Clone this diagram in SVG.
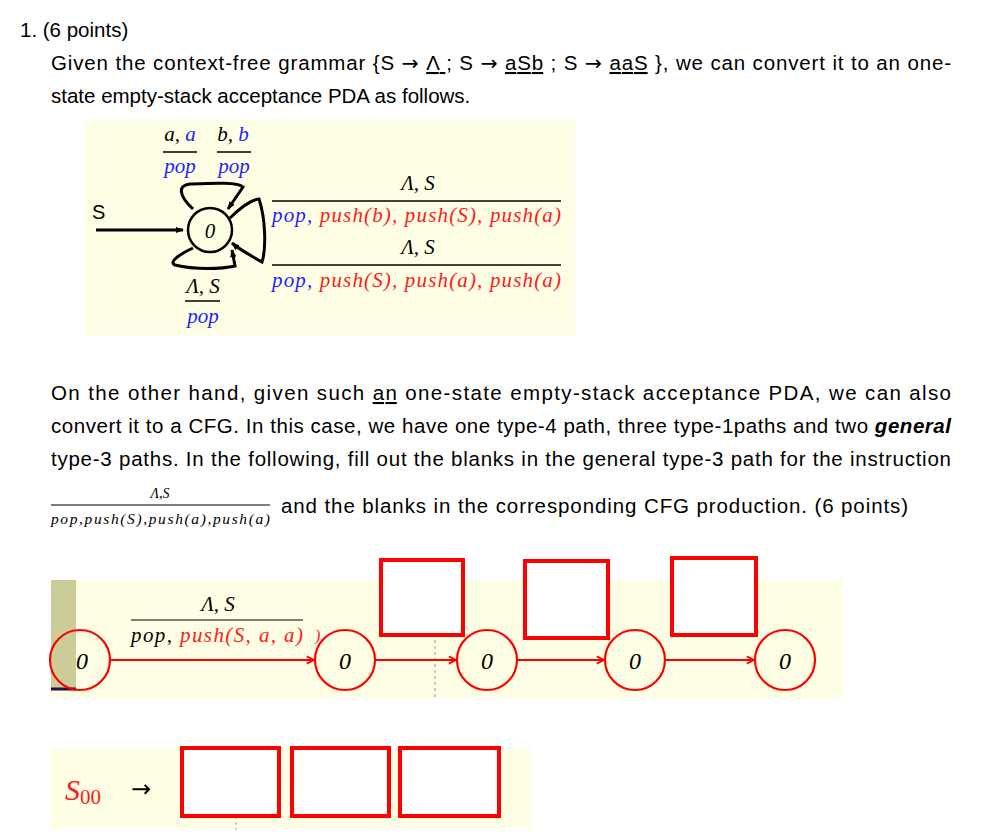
<svg xmlns="http://www.w3.org/2000/svg" width="981" height="835" viewBox="0 0 981 835">
<style>
.t{font-family:"Liberation Sans",Arial,sans-serif;font-size:20.5px;fill:#000}
.ar{font-family:"DejaVu Sans",sans-serif}
.m{font-family:"Liberation Serif","DejaVu Serif",serif;font-style:italic;font-size:21px}
.b{fill:#1f1fff}.r{fill:#ff1a1a}.k{fill:#000}
.yl{fill:#fefee4}
.rb{fill:#fff;stroke:#ff0000;stroke-width:4}
.rc{fill:none;stroke:#ff0000;stroke-width:2.2}
.ra{stroke:#ff0000;stroke-width:2;fill:none;marker-end:url(#ar)}
.bl{stroke:#000;stroke-width:3;fill:none;marker-end:url(#ab)}
</style>
<defs>
<marker id="ar" viewBox="0 0 10 10" refX="9" refY="5" markerWidth="9" markerHeight="9" orient="auto" markerUnits="userSpaceOnUse"><path d="M1,1 L9,5 L1,9" fill="none" stroke="#ff0000" stroke-width="2"/></marker>
<marker id="ab" viewBox="0 0 10 10" refX="9" refY="5" markerWidth="8" markerHeight="8" orient="auto" markerUnits="userSpaceOnUse"><path d="M0,1 L10,5 L0,9 z" fill="#000"/></marker>
</defs>
<rect width="981" height="835" fill="#fff"/>
<text class="t" x="20" y="37">1.  (6 points)</text>
<text class="t" x="51" y="70" textLength="900" lengthAdjust="spacing">Given the context-free grammar {S <tspan class="ar">→</tspan> <tspan text-decoration="underline">Λ </tspan>; S <tspan class="ar">→</tspan> <tspan text-decoration="underline">aSb</tspan> ; S <tspan class="ar">→</tspan> <tspan text-decoration="underline">aaS</tspan> }, we can convert it to an one-</text>
<text class="t" x="51" y="103">state empty-stack acceptance PDA as follows.</text>

<g id="pda">
<rect class="yl" x="84" y="120" width="491" height="215"/>
<g id="loops">
<path class="bl" d="M96,230 L183,230"/>
<path class="bl" d="M193,209 C178,195 178,185 190,184 C215,183 238,182 243,187 L228,209"/>
<path class="bl" d="M230,218 C240,208 250,200 259,199 C266,220 266,250 262,262 C250,255 240,250 232,243"/>
<path class="bl" d="M193,248 C180,254 168,262 175,265 C195,270 222,269 235,266 L232,250"/>
</g>
<g id="q0"><circle cx="210" cy="230" r="22" fill="none" stroke="#000" stroke-width="2.5"/><text class="m k" x="210" y="238" text-anchor="middle">0</text></g>
<text x="92" y="219" class="t" style="font-size:20px">S</text>
<text class="m" x="180" y="141" text-anchor="middle"><tspan class="k">a, </tspan><tspan class="b">a</tspan></text>
<line x1="163" y1="152" x2="197" y2="152" stroke="#000" stroke-width="1.5"/>
<text class="m b" x="180" y="173" text-anchor="middle">pop</text>
<text class="m" x="233" y="141" text-anchor="middle"><tspan class="k">b, </tspan><tspan class="b">b</tspan></text>
<line x1="217" y1="152" x2="251" y2="152" stroke="#000" stroke-width="1.5"/>
<text class="m b" x="234" y="173" text-anchor="middle">pop</text>
<text class="m k" x="418" y="190" text-anchor="middle">Λ, S</text>
<line x1="272" y1="201" x2="561" y2="201" stroke="#000" stroke-width="1.5"/>
<text class="m" x="272" y="222" textLength="289"><tspan class="b">pop, </tspan><tspan class="r">push(b), push(S), push(a)</tspan></text>
<text class="m k" x="418" y="254" text-anchor="middle">Λ, S</text>
<line x1="272" y1="265" x2="561" y2="265" stroke="#000" stroke-width="1.5"/>
<text class="m" x="272" y="287" textLength="289"><tspan class="b">pop, </tspan><tspan class="r">push(S), push(a), push(a)</tspan></text>
<text class="m k" x="203" y="293" text-anchor="middle">Λ, S</text>
<line x1="185" y1="301" x2="220" y2="301" stroke="#000" stroke-width="1.5"/>
<text class="m b" x="203" y="323" text-anchor="middle">pop</text>
</g>

<text class="t" x="51" y="400" textLength="900" lengthAdjust="spacing">On the other hand, given such <tspan text-decoration="underline">an</tspan> one-state empty-stack acceptance PDA, we can also</text>
<text class="t" x="51" y="433" textLength="900" lengthAdjust="spacing">convert it to a CFG. In this case, we have one type-4 path, three type-1paths and two <tspan font-weight="bold" font-style="italic">general</tspan></text>
<text class="t" x="51" y="466" textLength="900" lengthAdjust="spacing">type-3 paths. In the following, fill out the blanks in the general type-3 path for the instruction</text>
<text class="m k" x="160" y="498" style="font-size:14px" text-anchor="middle">Λ,S</text>
<line x1="51" y1="505" x2="270" y2="505" stroke="#000" stroke-width="1"/>
<text class="m k" x="51" y="524" style="font-size:15.5px" textLength="219">pop,push(S),push(a),push(a)</text>
<text class="t" x="281" y="513" textLength="627" lengthAdjust="spacing">and the blanks in the corresponding CFG production.   (6 points)</text>

<g id="path3">
<rect class="yl" x="51" y="580" width="792" height="118"/>
<rect x="51" y="580" width="25" height="108" fill="#cccc99"/>
<line x1="51" y1="689" x2="76" y2="689" stroke="#2a1040" stroke-width="3"/>
<line x1="435" y1="640" x2="435" y2="700" stroke="#999" stroke-dasharray="3,3"/>
<g id="connectors">
<path class="ra" d="M110,660 L314,660"/>
<path class="ra" d="M375,660 L456,660"/>
<path class="ra" d="M517,660 L604,660"/>
<path class="ra" d="M665,660 L754,660"/>
</g>
<g id="n1"><circle class="rc" cx="80" cy="660" r="30"/><text class="m k" x="82" y="669" style="font-size:24px" text-anchor="middle">0</text></g>
<g id="n2"><circle class="rc" cx="345" cy="660" r="30"/><text class="m k" x="345" y="669" style="font-size:24px" text-anchor="middle">0</text></g>
<g id="n3"><circle class="rc" cx="487" cy="660" r="30"/><text class="m k" x="487" y="669" style="font-size:24px" text-anchor="middle">0</text></g>
<g id="n4"><circle class="rc" cx="635" cy="660" r="30"/><text class="m k" x="635" y="669" style="font-size:24px" text-anchor="middle">0</text></g>
<g id="n5"><circle class="rc" cx="785" cy="660" r="30"/><text class="m k" x="785" y="669" style="font-size:24px" text-anchor="middle">0</text></g>
<text class="m k" x="218" y="611" text-anchor="middle">Λ, S</text>
<line x1="131" y1="620" x2="303" y2="620" stroke="#000" stroke-width="1.2"/>
<text class="m" x="131" y="642" textLength="172"><tspan class="k">pop, </tspan><tspan class="r">push(S, a, a)</tspan></text>
<text class="m r" x="315" y="641" style="font-size:16px">)</text>
<rect class="rb" x="381" y="560" width="82" height="75"/>
<rect class="rb" x="525" y="561" width="83" height="77"/>
<rect class="rb" x="672" y="558" width="84" height="77"/>
</g>

<g id="prod">
<rect class="yl" x="51" y="748" width="480" height="80"/>
<text class="m r" x="65" y="800" style="font-size:30px">S<tspan style="font-size:21px;font-style:normal" dy="4">00</tspan></text>
<text class="t ar" x="131" y="797" style="font-size:24px">→</text>
<line x1="236" y1="816" x2="236" y2="830" stroke="#999" stroke-dasharray="3,3"/>
<rect class="rb" x="182" y="748" width="97" height="68"/>
<rect class="rb" x="292" y="748" width="97" height="68"/>
<rect class="rb" x="400" y="748" width="99" height="68"/>
</g>
</svg>
